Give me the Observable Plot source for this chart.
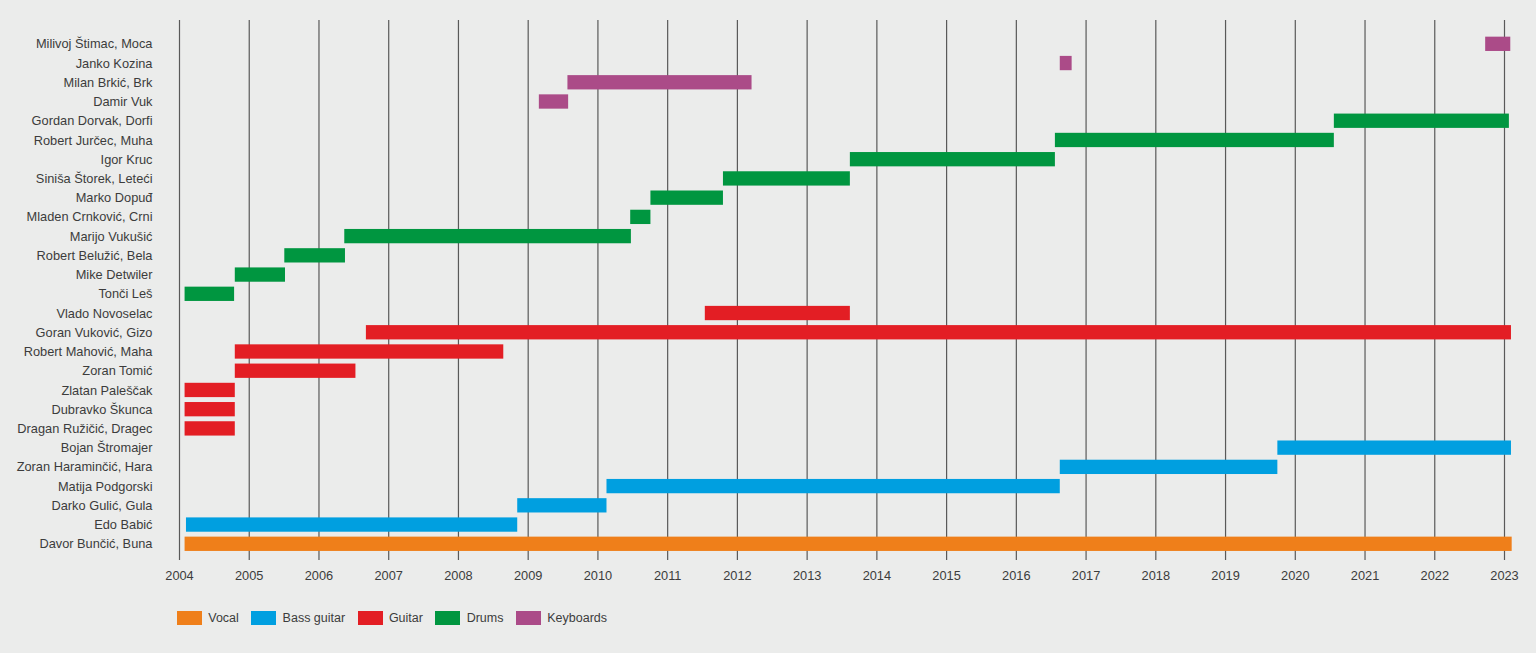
<!DOCTYPE html>
<html>
<head>
<meta charset="utf-8">
<script src="https://cdn.jsdelivr.net/npm/d3@7"></script>
<script src="https://cdn.jsdelivr.net/npm/@observablehq/plot@0.6"></script>
<style>
  html, body { margin: 0; padding: 0; background: #ebeceb; }
  #chart { position: relative; width: 1536px; height: 653px; overflow: hidden; }
  #legend { position: absolute; left: 177px; top: 601px; }
  #legend, #legend * { font-family: "Liberation Sans", Arial, sans-serif !important; font-size: 12.5px !important; color: #3c3c3c !important; }
</style>
</head>
<body>
<div id="chart"><div id="plot"></div><div id="legend"></div></div>
<script>
// Members, listed top to bottom
const members = [
  "Milivoj Štimac, Moca", "Janko Kozina", "Milan Brkić, Brk", "Damir Vuk",
  "Gordan Dorvak, Dorfi", "Robert Jurčec, Muha", "Igor Kruc", "Siniša Štorek, Leteći",
  "Marko Dopuđ", "Mladen Crnković, Crni", "Marijo Vukušić", "Robert Belužić, Bela",
  "Mike Detwiler", "Tonči Leš", "Vlado Novoselac", "Goran Vuković, Gizo",
  "Robert Mahović, Maha", "Zoran Tomić", "Zlatan Paleščak", "Dubravko Škunca",
  "Dragan Ružičić, Dragec", "Bojan Štromajer", "Zoran Haraminčić, Hara", "Matija Podgorski",
  "Darko Gulić, Gula", "Edo Babić", "Davor Bunčić, Buna"
];
const memberRoles = [
  "Keyboards", "Keyboards", "Keyboards", "Keyboards",
  "Drums", "Drums", "Drums", "Drums",
  "Drums", "Drums", "Drums", "Drums",
  "Drums", "Drums", "Guitar", "Guitar",
  "Guitar", "Guitar", "Guitar", "Guitar",
  "Guitar", "Bass guitar", "Bass guitar", "Bass guitar",
  "Bass guitar", "Bass guitar", "Vocal"
];
const startYears = [
  2022.73, 2016.63, 2009.57, 2009.16,
  2020.56, 2016.56, 2013.62, 2011.80,
  2010.76, 2010.47, 2006.37, 2005.51,
  2004.80, 2004.08, 2011.54, 2006.68,
  2004.80, 2004.80, 2004.08, 2004.08,
  2004.08, 2019.75, 2016.63, 2010.13,
  2008.85, 2004.10, 2004.08
];
const endYears = [
  2023.09, 2016.80, 2012.21, 2009.58,
  2023.07, 2020.56, 2016.56, 2013.62,
  2011.80, 2010.76, 2010.48, 2006.38,
  2005.52, 2004.79, 2013.62, 2023.10,
  2008.65, 2006.53, 2004.80, 2004.80,
  2004.80, 2023.10, 2019.75, 2016.63,
  2010.13, 2008.85, 2023.11
];
const roles = ["Vocal", "Bass guitar", "Guitar", "Drums", "Keyboards"];
const roleColors = ["#ef7f1a", "#009fe0", "#e31e24", "#009640", "#ab4b88"];
const yearTicks = [2004, 2005, 2006, 2007, 2008, 2009, 2010, 2011, 2012, 2013,
                   2014, 2015, 2016, 2017, 2018, 2019, 2020, 2021, 2022, 2023];

const rows = members.map((name, i) => ({
  name, role: memberRoles[i], start: startYears[i], end: endYears[i]
}));

const plot = Plot.plot({
  width: 1536,
  height: 590,
  marginTop: 20,
  marginBottom: 30,
  marginLeft: 179,
  marginRight: 32,
  style: {
    background: "#ebeceb",
    fontFamily: "'Liberation Sans', Arial, sans-serif",
    fontSize: "12.8px",
    color: "#3c3c3c"
  },
  x: {
    domain: [2004, 2023],
    ticks: yearTicks,
    tickFormat: d => String(d),
    tickSize: 0,
    tickPadding: 10,
    label: null
  },
  y: {
    domain: members,
    range: [34.2, 553.4],
    round: false,
    paddingInner: 0.256,
    paddingOuter: 0.128,
    tickSize: 0,
    tickPadding: 27,
    label: null
  },
  color: { domain: roles, range: roleColors },
  marks: [
    Plot.ruleX(yearTicks, { x: d => d, stroke: "#595959", strokeWidth: 1.2 }),
    Plot.barX(rows, { y: "name", x1: "start", x2: "end", fill: "role" })
  ]
});
document.getElementById("plot").appendChild(plot);

const legend = Plot.legend({
  color: { domain: roles, range: roleColors },
  legend: "swatches",
  swatchWidth: 25,
  swatchHeight: 14
});
document.getElementById("legend").appendChild(legend);
</script>
</body>
</html>
